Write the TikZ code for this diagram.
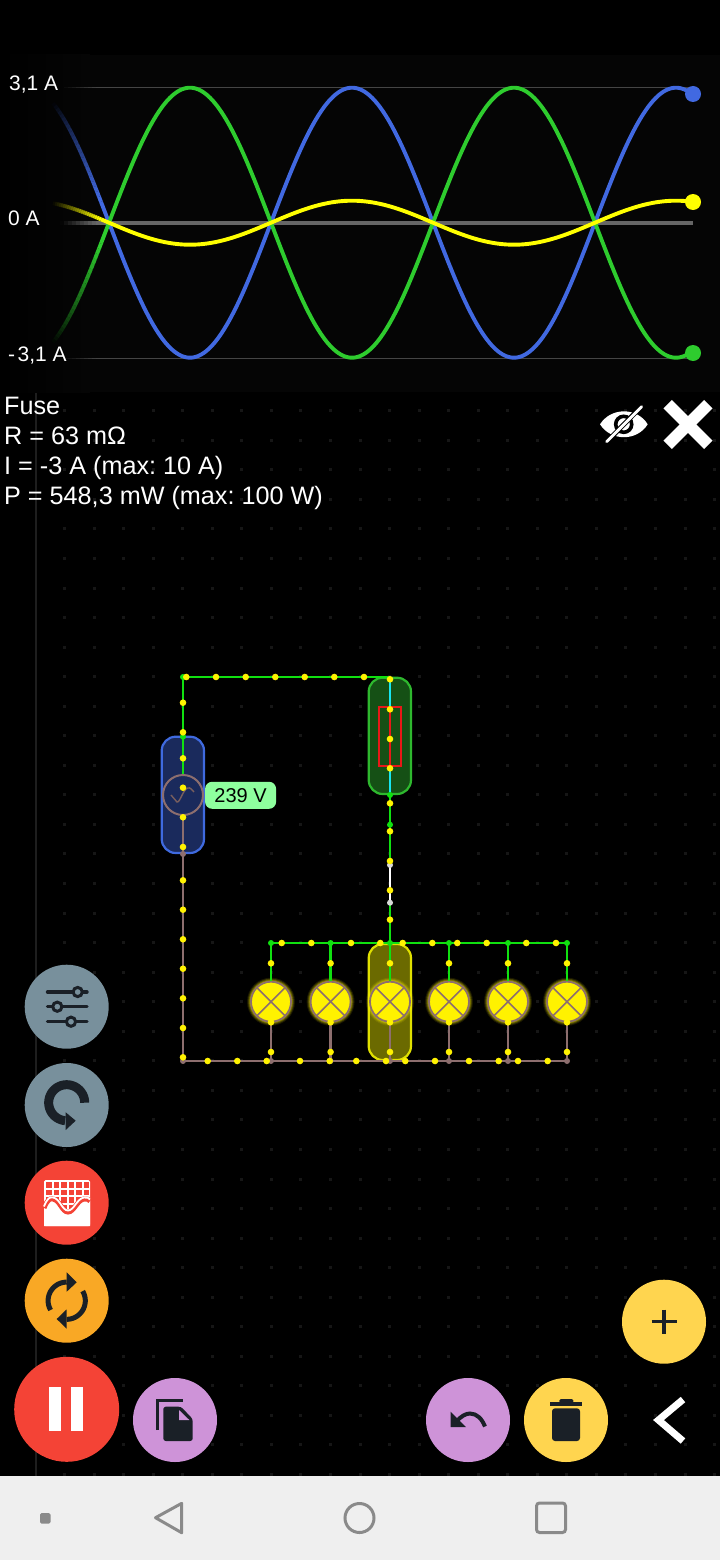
\documentclass[tikz,border=0pt]{standalone}
\usepackage{fontspec}
\setmainfont{Liberation Sans}
\frenchspacing
\definecolor{panelbg}{HTML}{050505}
\definecolor{griddot}{HTML}{161616}
\definecolor{axisline}{HTML}{1E1E1E}
\definecolor{plotblue}{HTML}{4169E1}
\definecolor{plotgreen}{HTML}{2ECC2E}
\definecolor{plotyellow}{HTML}{FFFF00}
\definecolor{gridmid}{HTML}{666666}
\definecolor{gridtop}{HTML}{454545}
\definecolor{wiregreen}{HTML}{10E010}
\definecolor{wirebrown}{HTML}{8D6E6E}
\definecolor{wirecyan}{HTML}{17E6F0}
\definecolor{wirered}{HTML}{E81818}
\definecolor{capblue}{HTML}{1A2A5C}
\definecolor{capblueedge}{HTML}{3F6ADF}
\definecolor{capgreen}{HTML}{155015}
\definecolor{capgreenedge}{HTML}{2EB82E}
\definecolor{capyellow}{HTML}{6B6A00}
\definecolor{capyellowedge}{HTML}{E0E000}
\definecolor{vlabel}{HTML}{8EFF9E}
\definecolor{btngray}{HTML}{78909C}
\definecolor{btnred}{HTML}{F44336}
\definecolor{btnorange}{HTML}{F9A825}
\definecolor{btnpurple}{HTML}{CE93D8}
\definecolor{btnyellow}{HTML}{FFD54F}
\definecolor{icondark}{HTML}{1A2027}
\definecolor{navbg}{HTML}{EFEFEF}
\definecolor{navicon}{HTML}{8A8A8A}
\tikzset{
  curve/.style={line width=3.9pt,line join=round},
  wg/.style={draw=wiregreen,line width=2.7pt},
  wb/.style={draw=wirebrown,line width=2.7pt},
  capsule/.style={line width=2.2pt,rounded corners=14pt},
  chg/.style={fill=yellow},
  lampnode/.style={circle,draw=wirebrown,line width=1.8pt,fill=yellow,minimum size=40pt,inner sep=0pt},
  btnA/.style={circle,minimum size=84pt,inner sep=0pt},
  btnB/.style={circle,minimum size=105pt,inner sep=0pt},
  infotext/.style={anchor=base west,inner sep=0pt,text=white,font=\fontsize{25.2}{30}\selectfont},
  axistext/.style={anchor=base west,inner sep=0pt,text=white,font=\fontsize{21}{25}\selectfont},
}
\begin{document}
\begin{tikzpicture}[x=1pt,y=-1pt]
\useasboundingbox (0,0) rectangle (720,1560);
\fill[black] (0,0) rectangle (720,1560);
% grid dots
\foreach \i in {0,...,22}{\foreach \j in {0,...,36}{
  \pgfmathsetmacro{\gx}{64.5+29.55*\i}\pgfmathsetmacro{\gy}{410.7+29.55*\j}
  \fill[griddot] (\gx-1.5,\gy-1.5) rectangle (\gx+1.5,\gy+1.5);
}}
\draw[axisline,line width=1.4pt] (36,393) -- (36,1476);
% plot panel
\fill[panelbg] (0,55) rectangle (720,392);
\shade[left color=black,right color=panelbg] (0,55) rectangle (90,392);
\foreach \yy/\lw/\cc in {87.3/1/gridtop,358.3/1/gridtop,222.7/3.6/gridmid}{
  \foreach \xx in {60,64,...,92}{
    \pgfmathtruncatemacro{\pp}{(\xx-58)/36*100}
    \draw[color=\cc!\pp!black,line width=\lw pt] (\xx,\yy) -- (\xx+4,\yy);
  }
  \draw[color=\cc,line width=\lw pt] (96,\yy) -- (693,\yy);
}
% fading starts of the curves
\foreach \xx in {53,55,...,99}{
  \pgfmathtruncatemacro{\pp}{(\xx-51)/48*100}
  \draw[color=plotblue!\pp!black,line width=3.9pt]
    (\xx,{222.7+135*sin((\xx-109)/162*180)}) -- (\xx+2,{222.7+135*sin((\xx+2-109)/162*180)});
  \draw[color=plotgreen!\pp!black,line width=3.9pt]
    (\xx,{222.7-135*sin((\xx-109)/162*180)}) -- (\xx+2,{222.7-135*sin((\xx+2-109)/162*180)});
  \draw[color=plotyellow!\pp!black,line width=3.9pt]
    (\xx,{222.7+22*sin((\xx-109)/162*180)}) -- (\xx+2,{222.7+22*sin((\xx+2-109)/162*180)});
}
\draw[curve,plotblue] plot[domain=101:693,samples=300,smooth] (\x,{222.7+135*sin((\x-109)/162*180)});
\draw[curve,plotgreen] plot[domain=101:693,samples=300,smooth] (\x,{222.7-135*sin((\x-109)/162*180)});
\draw[curve,plotyellow] plot[domain=101:693,samples=300,smooth] (\x,{222.7+22*sin((\x-109)/162*180)});
\fill[plotblue] (693,94) circle[radius=8pt];
\fill[plotyellow] (693,202) circle[radius=8pt];
\fill[plotgreen] (693,353) circle[radius=8pt];
\node[axistext] (axtop) at (9,90.7) {3,1 A};
\node[axistext] (axmid) at (8,225) {0 A};
\node[axistext] (axbot) at (8,361.7) {-\kern2.5pt 3,1 A};
% info text
\node[infotext] (i1) at (4,414) {Fuse};
\node[infotext] (i2) at (4,444) {R = 63 mΩ};
\node[infotext] (i3) at (4,474) {I = -3 A (max: 10 A)};
\node[infotext] (i4) at (4,504) {P = 548,3 mW (max: 100 W)};
% eye and close icons
\fill[white] (600,424.3) .. controls (611,407) and (637,407) .. (647.7,424.3) .. controls (637,441.5) and (611,441.5) .. cycle;
\draw[black,line width=3.6pt] (623.7,424.3) circle[radius=8pt];
\draw[black,line width=4.8pt] (612,436.5) -- (636,412);
\draw[white,line width=2.8pt,line cap=round] (606.7,441.7) -- (641.7,406.7);
\draw[white,line width=12pt] (667.7,404.2) -- (708.3,444.8);
\draw[white,line width=12pt] (708.3,404.2) -- (667.7,444.8);
% capsules
\draw[capsule,fill=capblue,draw=capblueedge] (161.7,736.7) rectangle (204,853);
\draw[capsule,fill=capgreen,draw=capgreenedge] (368.7,677.7) rectangle (411,794);
\draw[capsule,fill=capyellow,draw=capyellowedge] (368.7,944) rectangle (411,1060);
% circuit anchors
\coordinate (tl) at (183,677);
\coordinate (tr) at (390,677);
\coordinate (bl) at (183,1061);
\coordinate (br) at (567,1061);
\coordinate (fa) at (390,707);
\coordinate (fb) at (390,766);
\coordinate (fc) at (390,795);
\coordinate (wa) at (390,865);
\coordinate (wb) at (390,903);
\coordinate (jn) at (390,943);
\coordinate (rl) at (271,943);
\coordinate (rr) at (567,943);
\node[circle,draw=wirebrown,line width=2pt,minimum size=40pt,inner sep=0pt] (src) at (183,795) {};
\draw[wg] (src.north) -- (tl) -- (tr);
\draw[wb] (src.south) -- (bl) -- (br);
\draw[draw=wirecyan,line width=2.7pt] (tr) -- (fa);
\draw[draw=wirered,line width=2.7pt] (fa) -- (fb);
\draw[draw=wirecyan,line width=2.7pt] (fb) -- (fc);
\draw[wg] (fc) -- (wa);
\draw[draw=white,line width=2.7pt] (wa) -- (wb);
\draw[wg] (wb) -- (jn);
\draw[wg] (rl) -- (rr);
\draw[draw=wirered,line width=2.2pt] (378.7,706.7) rectangle (401,766);
\draw[wirebrown!85!black,line width=1.4pt] (171,795) -- (177,802) .. controls (180,803) and (183,789) .. (188,788) .. controls (190,787) and (192,790) .. (194,792);
% lamps
\foreach \n/\lx in {1/271,2/330.6,3/390,4/449,5/508,6/567}{
  \foreach \rr/\oo in {24/.10,23/.18,22/.28,21/.4}{\fill[yellow,opacity=\oo] (\lx,1001.7) circle[radius=\rr pt];}
  \node[lampnode] (lamp\n) at (\lx,1001.7) {};
  \draw[wirebrown,line width=1.6pt] (lamp\n.north east) -- (lamp\n.south west);
  \draw[wirebrown,line width=1.6pt] (lamp\n.north west) -- (lamp\n.south east);
  \coordinate (lt\n) at (\lx,943);
  \coordinate (lb\n) at (\lx,1061);
  \draw[wg] (lt\n) -- (lamp\n.north);
  \draw[wb] (lamp\n.south) -- (lb\n);
  \fill[wiregreen] (lt\n) circle[radius=3pt];
  \fill[wirebrown] (lb\n) circle[radius=3pt];
}
% junction points
\foreach \px/\py in {183/677,183/736.7,390/795,390/824.7}{\fill[wiregreen] (\px,\py) circle[radius=3pt];}
\foreach \px/\py in {183/854,183/1061}{\fill[wirebrown] (\px,\py) circle[radius=3pt];}
\foreach \px/\py in {390/865,390/902.7}{\fill[white!85!black] (\px,\py) circle[radius=3pt];}
% moving charges
\foreach \px in {186.3,216,245.7,275.3,304.7,334.3,364}{\fill[chg] (\px,677) circle[radius=3.3pt];}
\foreach \py in {702.7,732.3,758.3,787.7,817.3,847,880.3,909.7,939.3,968.7,998.3,1028,1057.3}{\fill[chg] (183,\py) circle[radius=3.3pt];}
\foreach \py in {679.3,709.3,739,768.3,803.3,831.3,861,890.3,919.7}{\fill[chg] (390,\py) circle[radius=3.3pt];}
\foreach \px in {281.7,311.3,351,380.3,402.7,432.3,457.3,486.7,526.3,556}{\fill[chg] (\px,943) circle[radius=3.3pt];}
\foreach \px in {207.7,237.3,266.7,300,329.7,356.3,386,405.3,435,469,498.7,518,547.7}{\fill[chg] (\px,1061) circle[radius=3.3pt];}
\foreach \lx in {271,330.6,390,449,508,567}{
  \fill[chg] (\lx,963.3) circle[radius=3.3pt];
  \fill[chg] (\lx,1022.3) circle[radius=3.3pt];
  \fill[chg] (\lx,1052) circle[radius=3.3pt];
}
% voltage label
\node[fill=vlabel,rounded corners=7pt,minimum width=71pt,minimum height=27pt,inner sep=0pt,text=black,font=\fontsize{20}{24}\selectfont] (volt) at (240.6,795.3) {239 V};
% buttons
\node[btnA,fill=btngray] (b1) at (66.7,1006.7) {};
\node[btnA,fill=btngray] (b2) at (66.7,1105) {};
\node[btnA,fill=btnred] (b3) at (66.7,1202.7) {};
\node[btnA,fill=btnorange] (b4) at (66.7,1300.7) {};
\node[btnB,fill=btnred] (b5) at (66.7,1409.3) {};
\node[btnA,fill=btnpurple] (b6) at (175,1420) {};
\node[btnA,fill=btnpurple] (b7) at (468,1420) {};
\node[btnA,fill=btnyellow] (b8) at (566,1420) {};
\node[btnA,fill=btnyellow] (b9) at (664,1321.7) {};
% sliders icon
\foreach \sy/\kx in {992/77.7,1006.7/57.3,1021.7/71}{
  \draw[icondark,line width=3.4pt,line cap=round] (47.5,\sy) -- (87,\sy);
  \draw[icondark,fill=btngray,line width=3pt] (\kx,\sy) circle[radius=4.6pt];
}
% rotate icon
\draw[icondark,line width=9pt] plot[domain=0:-265,samples=60,smooth] ({66.7+18*cos(\x)},{1102.7+18*sin(\x)});
\fill[icondark] (65.7,1112.3) -- (75.7,1120.7) -- (65.7,1130) -- cycle;
% chart icon
\fill[white,rounded corners=1.5pt] (44,1180) rectangle (90,1226);
\foreach \cx in {0,...,5}{\foreach \cy in {0,...,4}{
  \fill[btnred] ({46+7.5*\cx},{1182+7.6*\cy}) rectangle ({46+7.5*\cx+5.6},{1182+7.6*\cy+5.8});
}}
\fill[white] (44,1206) .. controls (47,1198) and (50,1196) .. (53,1197) .. controls (60,1198) and (62,1212) .. (68,1212) .. controls (74,1212) and (77,1198) .. (84,1197) .. controls (87,1196) and (89,1198) .. (90,1199) -- (90,1226) -- (44,1226) -- cycle;
\draw[btnred,line width=5pt] (44,1208) .. controls (47,1200) and (50,1198) .. (53,1199) .. controls (60,1200) and (62,1212) .. (68,1212) .. controls (74,1212) and (77,1200) .. (84,1199) .. controls (87,1198) and (89,1200) .. (90,1201);
\draw[white,line width=1.8pt] (44,1206.5) .. controls (47,1198.5) and (50,1196.5) .. (53,1197.5) .. controls (60,1198.5) and (62,1210.5) .. (68,1210.5) .. controls (74,1210.5) and (77,1198.5) .. (84,1197.5) .. controls (87,1196.5) and (89,1198.5) .. (90,1199.5);
% sync icon
\draw[icondark,line width=5pt] plot[domain=150:270,samples=30,smooth] ({66.7+18.6*cos(\x)},{1300.7+18.6*sin(\x)});
\draw[icondark,line width=5pt] plot[domain=-31:90,samples=30,smooth] ({66.7+18.6*cos(\x)},{1300.7+18.6*sin(\x)});
\fill[icondark] (66.7,1272.3) -- (76.7,1282.3) -- (66.7,1291.7) -- cycle;
\fill[icondark] (66.7,1309.3) -- (56.7,1319) -- (66.7,1328.7) -- cycle;
% pause icon
\fill[white] (49.3,1386.7) rectangle (60.7,1431);
\fill[white] (71.3,1386.7) rectangle (82.7,1431);
% copy icon
\draw[icondark,line width=3.3pt] (157.7,1430) -- (157.7,1400.7) -- (182.7,1400.7);
\fill[icondark,rounded corners=2.5pt] (163.3,1406.7) -- (181,1406.7) -- (192.7,1419) -- (192.7,1441) -- (163.3,1441) -- cycle;
\fill[btnpurple] (179,1410) -- (179,1420) -- (189.3,1420) -- cycle;
% undo icon
\fill[icondark] (450.7,1411.7) -- (450.7,1427) -- (466,1427) -- cycle;
\draw[icondark,line width=4pt] (456,1422) .. controls (461,1416) and (466,1413.5) .. (470,1413.5) .. controls (477,1413.5) and (482,1419) .. (485,1426.5);
% trash icon
\fill[icondark,rounded corners=3pt] (552,1408.3) -- (580,1408.3) -- (580,1441) -- (552,1441) -- cycle;
\fill[icondark] (550,1401.7) rectangle (582.3,1406);
\fill[icondark,rounded corners=1.5pt] (559.3,1399) rectangle (573.3,1403);
% plus icon
\draw[icondark,line width=3.2pt] (651.7,1321.7) -- (676.7,1321.7);
\draw[icondark,line width=3.2pt] (664,1309.5) -- (664,1334);
% back chevron
\draw[white,line width=7pt] (683,1399.5) -- (658.5,1420) -- (683,1441);
% navigation bar
\fill[navbg] (0,1476) rectangle (720,1560);
\fill[navicon,rounded corners=1.5pt] (40,1513) rectangle (50.5,1523.5);
\draw[navicon,line width=3pt,line join=round] (155.5,1517.7) -- (181.7,1503.3) -- (181.7,1532.7) -- cycle;
\draw[navicon,line width=3pt] (359.5,1518) circle[radius=14.5pt];
\draw[navicon,line width=3pt,rounded corners=3pt] (536.5,1503) rectangle (565.5,1532.5);
\end{tikzpicture}
\end{document}
